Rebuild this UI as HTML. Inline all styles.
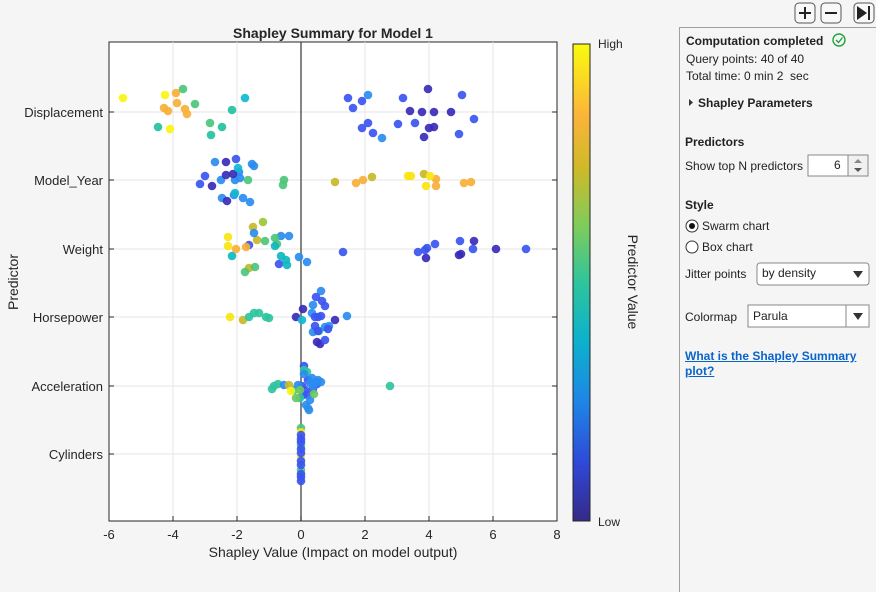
<!DOCTYPE html>
<html><head><meta charset="utf-8"><style>
body{margin:0;width:876px;height:592px;background:#f5f5f5;font-family:"Liberation Sans",Arial,sans-serif;overflow:hidden;position:relative}
.p{position:absolute;font-size:12px;color:#222}
.b{font-weight:bold}
</style></head><body>
<svg width="876" height="592" style="position:absolute;left:0;top:0" font-family="Liberation Sans, Arial, sans-serif">
<defs>
<linearGradient id="par" x1="0" y1="1" x2="0" y2="0">
<stop offset="0" stop-color="#352a87"/><stop offset="0.12" stop-color="#2f48d8"/><stop offset="0.25" stop-color="#1e86e6"/><stop offset="0.38" stop-color="#0cb2cc"/><stop offset="0.5" stop-color="#2fc49c"/><stop offset="0.62" stop-color="#7fcc5a"/><stop offset="0.74" stop-color="#cfb928"/><stop offset="0.85" stop-color="#fbb43a"/><stop offset="1" stop-color="#f9fb0e"/>
</linearGradient>
</defs>
<rect x="109" y="42" width="448" height="479" fill="#fff" stroke="#262626" stroke-width="1"/>
<g stroke="#e6e6e6" stroke-width="1">
<line x1="173" y1="42" x2="173" y2="521"/><line x1="237" y1="42" x2="237" y2="521"/><line x1="365" y1="42" x2="365" y2="521"/><line x1="429" y1="42" x2="429" y2="521"/><line x1="493" y1="42" x2="493" y2="521"/>
<line x1="109" y1="112" x2="557" y2="112"/><line x1="109" y1="180" x2="557" y2="180"/><line x1="109" y1="249" x2="557" y2="249"/><line x1="109" y1="317" x2="557" y2="317"/><line x1="109" y1="386" x2="557" y2="386"/><line x1="109" y1="454" x2="557" y2="454"/>
</g>
<line x1="301" y1="42" x2="301" y2="521" stroke="#444" stroke-width="1.3"/>
<g fill-opacity="0.92">
<!-- Displacement -->
<g fill="#f9f50f"><circle cx="123" cy="98" r="4.3"/><circle cx="165" cy="95" r="4.3"/><circle cx="170" cy="129" r="4.3"/></g>
<g fill="#f9b038"><circle cx="176" cy="93" r="4.3"/><circle cx="164" cy="108" r="4.3"/><circle cx="168" cy="111" r="4.3"/><circle cx="177" cy="103" r="4.3"/><circle cx="185" cy="109" r="4.3"/><circle cx="187" cy="114" r="4.3"/></g>
<g fill="#4cc679"><circle cx="183" cy="89" r="4.3"/><circle cx="195" cy="104" r="4.3"/><circle cx="210" cy="123" r="4.3"/></g>
<g fill="#22c2a0"><circle cx="158" cy="127" r="4.3"/><circle cx="222" cy="127" r="4.3"/><circle cx="211" cy="135" r="4.3"/><circle cx="232" cy="110" r="4.3"/></g>
<g fill="#10b8d0"><circle cx="245" cy="98" r="4.3"/></g>
<g fill="#3b55f0"><circle cx="348" cy="98" r="4.3"/><circle cx="362" cy="101" r="4.3"/><circle cx="353" cy="108" r="4.3"/><circle cx="368" cy="123" r="4.3"/><circle cx="362" cy="128" r="4.3"/><circle cx="373" cy="133" r="4.3"/><circle cx="403" cy="98" r="4.3"/><circle cx="462" cy="95" r="4.3"/><circle cx="474" cy="119" r="4.3"/><circle cx="398" cy="124" r="4.3"/><circle cx="415" cy="123" r="4.3"/><circle cx="459" cy="134" r="4.3"/></g>
<g fill="#2a8cf0"><circle cx="368" cy="95" r="4.3"/><circle cx="382" cy="138" r="4.3"/></g>
<g fill="#3a2cb8"><circle cx="428" cy="89" r="4.3"/><circle cx="410" cy="111" r="4.3"/><circle cx="422" cy="112" r="4.3"/><circle cx="434" cy="112" r="4.3"/><circle cx="451" cy="112" r="4.3"/><circle cx="434" cy="127" r="4.3"/><circle cx="429" cy="128" r="4.3"/><circle cx="424" cy="137" r="4.3"/></g>
<!-- Model_Year -->
<g fill="#2a8cf0"><circle cx="215" cy="162" r="4.3"/><circle cx="252" cy="164" r="4.3"/><circle cx="254" cy="166" r="4.3"/><circle cx="239" cy="172" r="4.3"/><circle cx="221" cy="180" r="4.3"/><circle cx="235" cy="180" r="4.3"/><circle cx="240" cy="178" r="4.3"/><circle cx="234" cy="195" r="4.3"/><circle cx="222" cy="198" r="4.3"/><circle cx="243" cy="198" r="4.3"/><circle cx="250" cy="202" r="4.3"/></g>
<g fill="#3a2cb8"><circle cx="226" cy="162" r="4.3"/><circle cx="226" cy="175" r="4.3"/><circle cx="233" cy="174" r="4.3"/><circle cx="212" cy="186" r="4.3"/><circle cx="227" cy="201" r="4.3"/></g>
<g fill="#3b55f0"><circle cx="236" cy="159" r="4.3"/><circle cx="205" cy="176" r="4.3"/><circle cx="200" cy="184" r="4.3"/></g>
<g fill="#10b8d0"><circle cx="238" cy="168" r="4.3"/><circle cx="235" cy="193" r="4.3"/></g>
<g fill="#4cc679"><circle cx="248" cy="180" r="4.3"/><circle cx="284" cy="180" r="4.3"/><circle cx="283" cy="185" r="4.3"/></g>
<g fill="#c8b72a"><circle cx="335" cy="182" r="4.3"/><circle cx="372" cy="177" r="4.3"/><circle cx="424" cy="174" r="4.3"/></g>
<g fill="#f9b038"><circle cx="356" cy="183" r="4.3"/><circle cx="363" cy="180" r="4.3"/><circle cx="436" cy="179" r="4.3"/><circle cx="436" cy="186" r="4.3"/><circle cx="464" cy="183" r="4.3"/><circle cx="471" cy="182" r="4.3"/></g>
<g fill="#f9e512"><circle cx="408" cy="176" r="4.3"/><circle cx="411" cy="176" r="4.3"/><circle cx="430" cy="176" r="4.3"/><circle cx="426" cy="186" r="4.3"/></g>
<!-- Weight -->
<g fill="#f9e512"><circle cx="228" cy="237" r="4.3"/><circle cx="228" cy="246" r="4.3"/></g>
<g fill="#c8b72a"><circle cx="253" cy="227" r="4.3"/><circle cx="257" cy="240" r="4.3"/><circle cx="249" cy="268" r="4.3"/></g>
<g fill="#9cc636"><circle cx="263" cy="222" r="4.3"/></g>
<g fill="#2a8cf0"><circle cx="254" cy="233" r="4.3"/><circle cx="281" cy="236" r="4.3"/><circle cx="289" cy="236" r="4.3"/><circle cx="299" cy="257" r="4.3"/><circle cx="307" cy="262" r="4.3"/></g>
<g fill="#4cc679"><circle cx="265" cy="241" r="4.3"/><circle cx="275" cy="238" r="4.3"/><circle cx="277" cy="244" r="4.3"/><circle cx="245" cy="272" r="4.3"/><circle cx="255" cy="267" r="4.3"/></g>
<g fill="#3b55f0"><circle cx="249" cy="245" r="4.3"/><circle cx="279" cy="264" r="4.3"/><circle cx="343" cy="252" r="4.3"/><circle cx="418" cy="252" r="4.3"/><circle cx="425" cy="250" r="4.3"/><circle cx="427" cy="248" r="4.3"/><circle cx="435" cy="244" r="4.3"/><circle cx="460" cy="241" r="4.3"/><circle cx="473" cy="249" r="4.3"/><circle cx="526" cy="249" r="4.3"/></g>
<g fill="#f9b038"><circle cx="236" cy="249" r="4.3"/><circle cx="246" cy="247" r="4.3"/></g>
<g fill="#10b8c0"><circle cx="232" cy="256" r="4.3"/><circle cx="275" cy="246" r="4.3"/><circle cx="281" cy="256" r="4.3"/><circle cx="286" cy="260" r="4.3"/><circle cx="287" cy="265" r="4.3"/></g>
<g fill="#3a2cb8"><circle cx="426" cy="258" r="4.3"/><circle cx="459" cy="255" r="4.3"/><circle cx="461" cy="254" r="4.3"/><circle cx="474" cy="241" r="4.3"/><circle cx="496" cy="249" r="4.3"/></g>
<!-- Horsepower -->
<g fill="#f9e512"><circle cx="230" cy="317" r="4.3"/></g>
<g fill="#c8b72a"><circle cx="243" cy="320" r="4.3"/></g>
<g fill="#2ec4a0"><circle cx="249" cy="317" r="4.3"/><circle cx="254" cy="313" r="4.3"/><circle cx="259" cy="313" r="4.3"/><circle cx="266" cy="317" r="4.3"/><circle cx="269" cy="318" r="4.3"/><circle cx="319" cy="331" r="4.3"/></g>
<g fill="#3a2cb8"><circle cx="296" cy="317" r="4.3"/><circle cx="303" cy="309" r="4.3"/><circle cx="335" cy="320" r="4.3"/><circle cx="317" cy="342" r="4.3"/><circle cx="320" cy="344" r="4.3"/></g>
<g fill="#10b8d0"><circle cx="302" cy="320" r="4.3"/></g>
<g fill="#2a8cf0"><circle cx="321" cy="291" r="4.3"/><circle cx="313" cy="305" r="4.3"/><circle cx="312" cy="313" r="4.3"/><circle cx="347" cy="316" r="4.3"/><circle cx="329" cy="326" r="4.3"/><circle cx="325" cy="327" r="4.3"/><circle cx="313" cy="332" r="4.3"/></g>
<g fill="#3b55f0"><circle cx="316" cy="297" r="4.3"/><circle cx="322" cy="301" r="4.3"/><circle cx="325" cy="306" r="4.3"/><circle cx="315" cy="317" r="4.3"/><circle cx="318" cy="317" r="4.3"/><circle cx="321" cy="316" r="4.3"/><circle cx="315" cy="326" r="4.3"/><circle cx="318" cy="331" r="4.3"/><circle cx="328" cy="329" r="4.3"/><circle cx="325" cy="340" r="4.3"/></g>
<!-- Acceleration -->
<g fill="#3b55f0"><circle cx="304" cy="366" r="4.3"/><circle cx="308" cy="380" r="4.3"/><circle cx="302" cy="386" r="4.3"/><circle cx="305" cy="390" r="4.3"/><circle cx="313" cy="389" r="4.3"/><circle cx="317" cy="384" r="4.3"/><circle cx="303" cy="395" r="4.3"/><circle cx="308" cy="395" r="4.3"/></g>
<g fill="#2ec4a0"><circle cx="304" cy="370" r="4.3"/><circle cx="307" cy="372" r="4.3"/><circle cx="274" cy="386" r="4.3"/><circle cx="272" cy="389" r="4.3"/><circle cx="278" cy="384" r="4.3"/><circle cx="294" cy="390" r="4.3"/><circle cx="300" cy="398" r="4.3"/><circle cx="308" cy="408" r="4.3"/><circle cx="390" cy="386" r="4.3"/></g>
<g fill="#2a8cf0"><circle cx="304" cy="374" r="4.3"/><circle cx="310" cy="383" r="4.3"/><circle cx="312" cy="378" r="4.3"/><circle cx="316" cy="382" r="4.3"/><circle cx="318" cy="380" r="4.3"/><circle cx="321" cy="382" r="4.3"/><circle cx="313" cy="386" r="4.3"/><circle cx="284" cy="385" r="4.3"/><circle cx="298" cy="385" r="4.3"/><circle cx="310" cy="400" r="4.3"/><circle cx="306" cy="405" r="4.3"/><circle cx="309" cy="410" r="4.3"/></g>
<g fill="#c8b72a"><circle cx="289" cy="385" r="4.3"/></g>
<g fill="#f9f50f"><circle cx="291" cy="391" r="4.3"/></g>
<g fill="#6cc862"><circle cx="300" cy="390" r="4.3"/><circle cx="296" cy="398" r="4.3"/><circle cx="314" cy="394" r="4.3"/></g>
<!-- Cylinders -->
<g fill="#4cc679"><circle cx="301" cy="428" r="4.3"/><circle cx="301" cy="445" r="4.3"/><circle cx="301" cy="470" r="4.3"/></g>
<g fill="#f9e512"><circle cx="301" cy="432" r="4"/><circle cx="301" cy="457" r="4"/></g>
<g fill="#3b55f0"><circle cx="301" cy="435" r="4.3"/><circle cx="301" cy="439" r="4.3"/><circle cx="301" cy="442" r="4.3"/><circle cx="301" cy="449" r="4.3"/><circle cx="301" cy="453" r="4.3"/><circle cx="301" cy="461" r="4.3"/><circle cx="301" cy="465" r="4.3"/><circle cx="301" cy="474" r="4.3"/><circle cx="301" cy="477" r="4.3"/><circle cx="301" cy="481" r="4.3"/></g>
</g>
<g stroke="#262626" stroke-width="1">
<line x1="109" y1="521" x2="109" y2="516"/><line x1="173" y1="521" x2="173" y2="516"/><line x1="237" y1="521" x2="237" y2="516"/><line x1="301" y1="521" x2="301" y2="516"/><line x1="365" y1="521" x2="365" y2="516"/><line x1="429" y1="521" x2="429" y2="516"/><line x1="493" y1="521" x2="493" y2="516"/><line x1="557" y1="521" x2="557" y2="516"/>
<line x1="109" y1="112" x2="114" y2="112"/><line x1="109" y1="180" x2="114" y2="180"/><line x1="109" y1="249" x2="114" y2="249"/><line x1="109" y1="317" x2="114" y2="317"/><line x1="109" y1="386" x2="114" y2="386"/><line x1="109" y1="454" x2="114" y2="454"/>
<line x1="557" y1="112" x2="552" y2="112"/><line x1="557" y1="180" x2="552" y2="180"/><line x1="557" y1="249" x2="552" y2="249"/><line x1="557" y1="317" x2="552" y2="317"/><line x1="557" y1="386" x2="552" y2="386"/><line x1="557" y1="454" x2="552" y2="454"/>
</g>
<g font-size="13" fill="#262626" text-anchor="middle">
<text x="109" y="539">-6</text><text x="173" y="539">-4</text><text x="237" y="539">-2</text><text x="301" y="539">0</text><text x="365" y="539">2</text><text x="429" y="539">4</text><text x="493" y="539">6</text><text x="557" y="539">8</text>
</g>
<g font-size="13" fill="#262626" text-anchor="end">
<text x="103" y="117">Displacement</text><text x="103" y="185">Model_Year</text><text x="103" y="254">Weight</text><text x="103" y="322">Horsepower</text><text x="103" y="391">Acceleration</text><text x="103" y="459">Cylinders</text>
</g>
<text x="333" y="557" font-size="14" fill="#262626" text-anchor="middle">Shapley Value (Impact on model output)</text>
<text transform="translate(18,282) rotate(-90)" font-size="14" fill="#262626" text-anchor="middle">Predictor</text>
<text x="333" y="38" font-size="14" font-weight="bold" fill="#262626" text-anchor="middle">Shapley Summary for Model 1</text>
<rect x="573" y="44" width="17" height="477" fill="url(#par)" stroke="#262626" stroke-width="1"/>
<text x="598" y="48" font-size="12" fill="#262626">High</text>
<text x="598" y="526" font-size="12" fill="#262626">Low</text>
<text transform="translate(628,282) rotate(90)" font-size="14" fill="#262626" text-anchor="middle">Predictor Value</text>
<!-- right panel -->
<line x1="679.5" y1="27" x2="679.5" y2="592" stroke="#a0a0a0"/>
<line x1="679" y1="27.5" x2="876" y2="27.5" stroke="#a0a0a0"/>
<g fill="#f8f8f8" stroke="#555" stroke-width="1">
<rect x="795" y="3" width="20" height="20" rx="4"/><rect x="821" y="3" width="20" height="20" rx="4"/><rect x="854" y="3" width="20" height="20" rx="4"/>
</g>
<g stroke="#222" stroke-width="2"><line x1="799" y1="13" x2="811" y2="13"/><line x1="805" y1="7" x2="805" y2="19"/><line x1="825" y1="13" x2="837" y2="13"/><line x1="869" y1="6" x2="869" y2="20"/></g>
<polygon points="857,6 867,13 857,20" fill="#222"/>
<circle cx="839" cy="40" r="6" fill="none" stroke="#22a33a" stroke-width="1.4"/>
<polyline points="836,40 838.5,42.5 842.5,37.5" fill="none" stroke="#22a33a" stroke-width="1.4"/>
<polygon points="689,99 693,102.5 689,106" fill="#333"/>
<rect x="808" y="155" width="40" height="21" fill="#fff" stroke="#888"/>
<rect x="848" y="155" width="20" height="21" fill="#f0f0f0" stroke="#888"/>
<polygon points="854,163 858,159 862,163" fill="#888"/><polygon points="854,168 858,172 862,168" fill="#555"/>
<circle cx="692" cy="226" r="6" fill="#fff" stroke="#333"/><circle cx="692" cy="226" r="3" fill="#111"/>
<circle cx="692" cy="247" r="6" fill="#fff" stroke="#333"/>
<rect x="757" y="263" width="112" height="22" rx="3" fill="#fff" stroke="#888"/>
<polygon points="853,271 863,271 858,278" fill="#333"/>
<rect x="748" y="305" width="121" height="22" fill="#fff" stroke="#888"/>
<line x1="846" y1="305" x2="846" y2="327" stroke="#888"/>
<polygon points="853,313 863,313 858,320" fill="#333"/>
</svg>
<div class="p b" style="left:686px;top:34px">Computation completed</div>
<div class="p" style="left:686px;top:52px">Query points: 40 of 40</div>
<div class="p" style="left:686px;top:69px">Total time: 0 min 2&nbsp; sec</div>
<div class="p b" style="left:698px;top:96px">Shapley Parameters</div>
<div class="p b" style="left:685px;top:135px">Predictors</div>
<div class="p" style="left:685px;top:159px">Show top N predictors</div>
<div class="p" style="left:834px;top:158px">6</div>
<div class="p b" style="left:685px;top:198px">Style</div>
<div class="p" style="left:702px;top:219px">Swarm chart</div>
<div class="p" style="left:702px;top:240px">Box chart</div>
<div class="p" style="left:685px;top:267px">Jitter points</div>
<div class="p" style="left:762px;top:266px">by density</div>
<div class="p" style="left:685px;top:310px">Colormap</div>
<div class="p" style="left:753px;top:309px">Parula</div>
<div class="p b" style="left:685px;top:349px;color:#0a64c8;text-decoration:underline;line-height:15px">What is the Shapley Summary<br>plot?</div>
</body></html>
